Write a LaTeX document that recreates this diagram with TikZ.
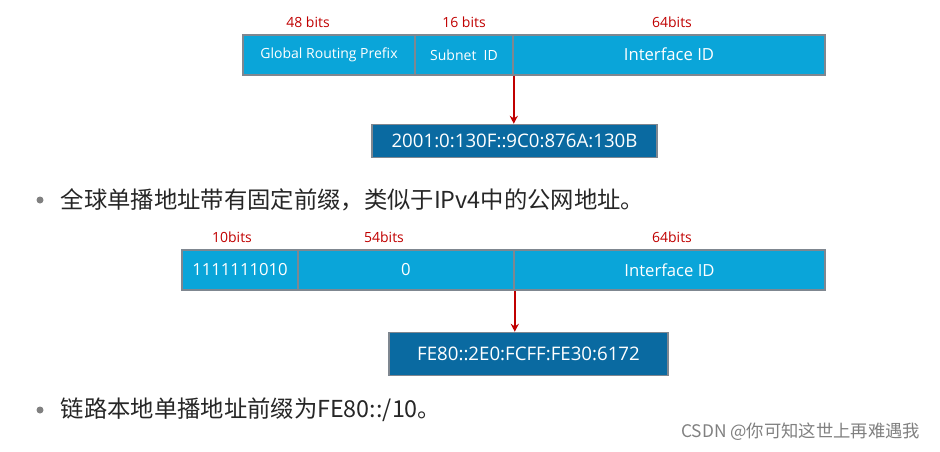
\documentclass[tikz,border=0pt]{standalone}
\usetikzlibrary{arrows.meta}
\usepackage{fontspec}
\setmainfont{Open Sans}
\newfontfamily\cjk{Noto Sans CJK SC}
\definecolor{lb}{HTML}{0AA5D9}
\definecolor{db}{HTML}{0A6AA1}
\definecolor{rd}{HTML}{C00000}
\definecolor{br}{HTML}{7F8790}
\tikzset{
 seg/.style={draw=br,line width=1.2pt,fill=lb,text=white,font=\fontsize{12.5}{14}\selectfont,inner sep=0pt},
 res/.style={draw=br,line width=1pt,fill=db,text=white,font=\fontsize{14}{16}\selectfont,inner sep=0pt},
 lab/.style={text=rd,font=\fontsize{10.5}{12}\selectfont},
 arr/.style={draw=rd,line width=1.3pt,-{Stealth[length=6pt,width=6pt]}},
 bul/.style={anchor=west,font=\cjk\fontsize{17.5}{20}\selectfont,text=black!85}
}
\begin{document}
\begin{tikzpicture}[x=0.75pt,y=-0.75pt]
\useasboundingbox (0,0) rectangle (940,451);
% top
\node[seg,minimum width=172*0.75pt,minimum height=40*0.75pt] (g) at (329,55) {\raisebox{-4pt}{\fontsize{10.5}{12}\selectfont Global Routing Prefix}};
\node[seg,minimum width=98*0.75pt,minimum height=40*0.75pt] (s) at (464,55) {\raisebox{-4pt}{\fontsize{10.5}{12}\selectfont Subnet\ \ ID}};
\node[seg,minimum width=312*0.75pt,minimum height=40*0.75pt] (i) at (669,55) {\raisebox{2pt}{Interface ID}};
\node[lab] (l1) at (308,22) {48 bits};
\node[lab] (l2) at (464,22) {16 bits};
\node[lab] (l3) at (672,22) {64bits};
\node[res,minimum width=285*0.75pt,minimum height=33*0.75pt] (r1) at (514.5,141) {\raisebox{-2pt}{2001:0:130F::9C0:876A:130B}};
\draw[arr] (s.south east) -- (r1.north -| s.south east);
\fill[gray] (40,200) circle (3.5);
\node[bul] (b1) at (56,200) {全球单播地址带有固定前缀，类似于IPv4中的公网地址。};
% bottom
\node[seg,minimum width=116*0.75pt,minimum height=40*0.75pt] (p) at (240,270) {1111111010};
\node[seg,minimum width=216*0.75pt,minimum height=40*0.75pt] (z) at (406,270) {0};
\node[seg,minimum width=311*0.75pt,minimum height=40*0.75pt] (j) at (669.5,270) {Interface ID};
\node[lab] (m1) at (232,237) {10bits};
\node[lab] (m2) at (384,237) {54bits};
\node[lab] (m3) at (672,237) {64bits};
\node[res,minimum width=279*0.75pt,minimum height=43*0.75pt] (r2) at (528.5,354) {FE80::2E0:FCFF:FE30:6172};
\draw[arr] (z.south east) -- (r2.north -| z.south east);
\fill[gray] (40,410) circle (3.5);
\node[bul] (b2) at (56,410) {链路本地单播地址前缀为FE80::/10。};
\node[anchor=east,text=gray,font=\cjk\fontsize{13}{15}\selectfont] (w) at (925,432) {CSDN @你可知这世上再难遇我};
\end{tikzpicture}
\end{document}
